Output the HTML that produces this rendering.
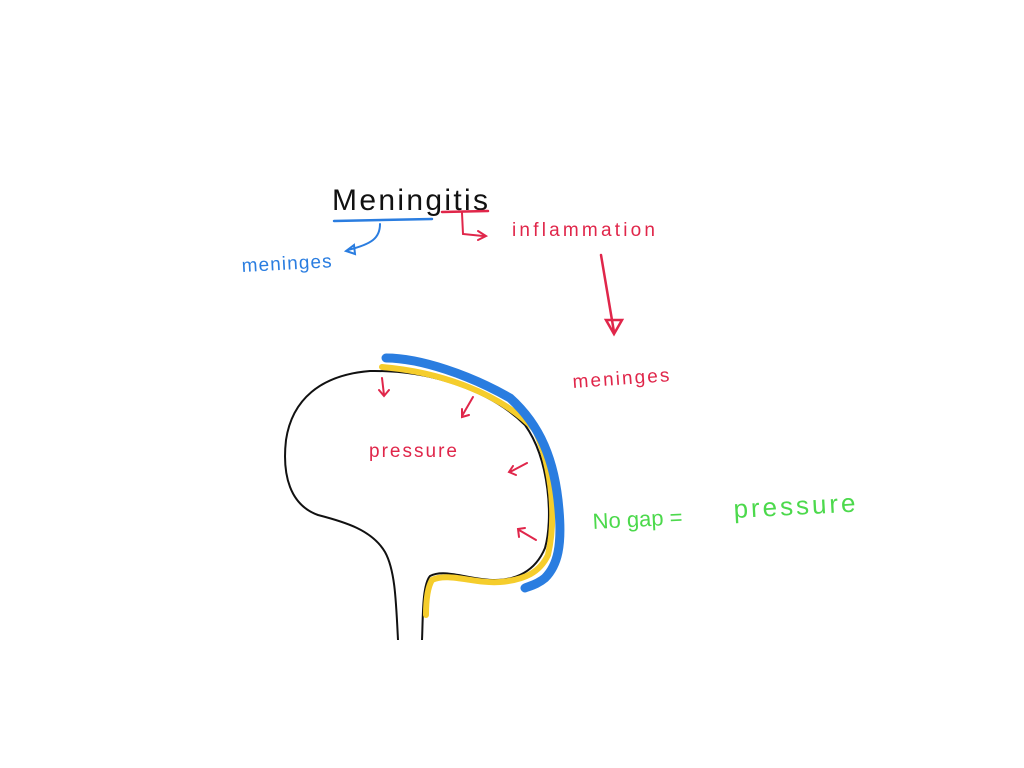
<!DOCTYPE html>
<html><head><style>
html,body{margin:0;padding:0;background:#fff;}
svg{display:block}
text{font-family:"Liberation Sans",sans-serif;}
</style></head><body>
<svg width="1024" height="768" viewBox="0 0 1024 768" xmlns="http://www.w3.org/2000/svg">
<rect width="1024" height="768" fill="#fff"/>
<text x="332" y="210" font-size="30" fill="#111" textLength="156" lengthAdjust="spacing">Meningitis</text>
<path d="M334 221 L432 219" stroke="#2a7de0" stroke-width="2.5" fill="none" stroke-linecap="round"/>
<path d="M442 212 L488 211" stroke="#e0264a" stroke-width="2.5" fill="none" stroke-linecap="round"/>
<path d="M380 224 C380 238 372 244 348 250 M354 245 L346 251 L355 254 Z" stroke="#2a7de0" stroke-width="2" fill="none" stroke-linecap="round"/>
<text x="242" y="272" font-size="19" fill="#2a7de0" transform="rotate(-3 242 272)" textLength="90" lengthAdjust="spacing">meninges</text>
<path d="M462 213 L463 234 L483 236 M478 231 L486 236 L478 240" stroke="#e0264a" stroke-width="2" fill="none" stroke-linecap="round"/>
<text x="512" y="236" font-size="19" fill="#e0264a" textLength="143" lengthAdjust="spacing">inflammation</text>
<path d="M601 255 L614 332 M606 320 L614 334 L622 320 Z" stroke="#e0264a" stroke-width="2.5" fill="none" stroke-linecap="round"/>
<text x="573" y="388" font-size="19" fill="#e0264a" transform="rotate(-4 573 388)" textLength="97" lengthAdjust="spacing">meninges</text>
<path d="M398 640 C396 600 395 570 385 552 C372 530 345 522 318 515 C290 505 282 475 286 440 C292 400 320 375 370 371 C430 370 490 390 525 425 C550 460 553 520 545 548 C535 572 515 580 495 580 C470 580 445 568 430 576 C422 585 423 620 422 640" stroke="#111" stroke-width="2" fill="none"/>
<path d="M382 367 C440 372 500 393 535 430 C553 470 556 520 548 555 C540 572 525 580 500 582 C475 584 448 572 432 580 C426 590 426 610 426 615" stroke="#f5cd2c" stroke-width="6" fill="none" stroke-linecap="round"/>
<path d="M386 358 C420 358 470 375 510 398 C540 425 555 460 559 510 C562 545 558 565 545 578 C538 584 530 586 525 588" stroke="#2a7de0" stroke-width="9" fill="none" stroke-linecap="round"/>
<g stroke="#e0264a" stroke-width="2" fill="none" stroke-linecap="round">
<path d="M382 378 L384 395 M379 390 L384 396 L389 390"/>
<path d="M473 397 L462 416 M462 409 L462 417 L469 415"/>
<path d="M527 463 L510 472 M513 466 L509 472 L516 475"/>
<path d="M536 540 L519 530 M519 537 L518 529 L525 528"/>
</g>
<text x="369" y="457" font-size="19" fill="#e0264a" textLength="88" lengthAdjust="spacing">pressure</text>
<text x="593" y="529" font-size="22" fill="#4cd94c" transform="rotate(-3 593 529)">No gap =</text>
<text x="734" y="518" font-size="26" fill="#4cd94c" transform="rotate(-3 734 518)" textLength="122" lengthAdjust="spacing">pressure</text>
</svg>
</body></html>
